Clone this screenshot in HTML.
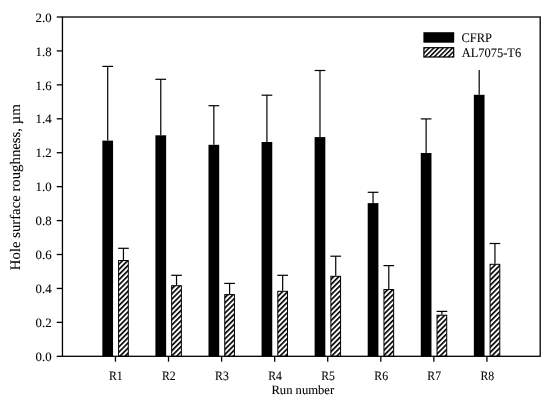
<!DOCTYPE html><html><head><meta charset="utf-8"><title>Hole surface roughness</title>
<style>html,body{margin:0;padding:0;background:#fff}svg{display:block}text{text-rendering:geometricPrecision;font-family:"Liberation Serif","Times New Roman",serif;fill:#000;stroke:#000;stroke-width:0.08px}</style></head><body>
<svg width="550" height="399" viewBox="0 0 550 399">
<defs><pattern id="h" width="3.65" height="3.65" patternUnits="userSpaceOnUse" patternTransform="rotate(-45)"><rect width="3.65" height="3.65" fill="#fff"/><rect width="3.65" height="1.65" fill="#000"/></pattern><pattern id="h2" width="3.3" height="3.3" patternUnits="userSpaceOnUse" patternTransform="rotate(-45)"><rect width="3.3" height="3.3" fill="#fff"/><rect width="3.3" height="1.5" fill="#000"/></pattern></defs>
<rect width="550" height="399" fill="#fff"/>
<line x1="107.70" y1="66.40" x2="107.70" y2="140.60" stroke="#000" stroke-width="1.2"/>
<line x1="102.35" y1="66.40" x2="113.05" y2="66.40" stroke="#000" stroke-width="1.2"/>
<line x1="123.45" y1="248.30" x2="123.45" y2="260.00" stroke="#000" stroke-width="1.2"/>
<line x1="118.10" y1="248.30" x2="128.80" y2="248.30" stroke="#000" stroke-width="1.2"/>
<line x1="160.77" y1="79.30" x2="160.77" y2="135.30" stroke="#000" stroke-width="1.2"/>
<line x1="155.42" y1="79.30" x2="166.12" y2="79.30" stroke="#000" stroke-width="1.2"/>
<line x1="176.52" y1="275.30" x2="176.52" y2="285.20" stroke="#000" stroke-width="1.2"/>
<line x1="171.17" y1="275.30" x2="181.87" y2="275.30" stroke="#000" stroke-width="1.2"/>
<line x1="213.84" y1="105.70" x2="213.84" y2="144.80" stroke="#000" stroke-width="1.2"/>
<line x1="208.49" y1="105.70" x2="219.19" y2="105.70" stroke="#000" stroke-width="1.2"/>
<line x1="229.59" y1="283.40" x2="229.59" y2="294.10" stroke="#000" stroke-width="1.2"/>
<line x1="224.24" y1="283.40" x2="234.94" y2="283.40" stroke="#000" stroke-width="1.2"/>
<line x1="266.91" y1="95.20" x2="266.91" y2="142.00" stroke="#000" stroke-width="1.2"/>
<line x1="261.56" y1="95.20" x2="272.26" y2="95.20" stroke="#000" stroke-width="1.2"/>
<line x1="282.66" y1="275.30" x2="282.66" y2="290.80" stroke="#000" stroke-width="1.2"/>
<line x1="277.31" y1="275.30" x2="288.01" y2="275.30" stroke="#000" stroke-width="1.2"/>
<line x1="319.98" y1="70.50" x2="319.98" y2="137.10" stroke="#000" stroke-width="1.2"/>
<line x1="314.63" y1="70.50" x2="325.33" y2="70.50" stroke="#000" stroke-width="1.2"/>
<line x1="335.73" y1="256.20" x2="335.73" y2="275.80" stroke="#000" stroke-width="1.2"/>
<line x1="330.38" y1="256.20" x2="341.08" y2="256.20" stroke="#000" stroke-width="1.2"/>
<line x1="373.05" y1="192.30" x2="373.05" y2="203.10" stroke="#000" stroke-width="1.2"/>
<line x1="367.70" y1="192.30" x2="378.40" y2="192.30" stroke="#000" stroke-width="1.2"/>
<line x1="388.80" y1="265.60" x2="388.80" y2="289.00" stroke="#000" stroke-width="1.2"/>
<line x1="383.45" y1="265.60" x2="394.15" y2="265.60" stroke="#000" stroke-width="1.2"/>
<line x1="426.12" y1="118.90" x2="426.12" y2="153.00" stroke="#000" stroke-width="1.2"/>
<line x1="420.77" y1="118.90" x2="431.47" y2="118.90" stroke="#000" stroke-width="1.2"/>
<line x1="441.87" y1="311.40" x2="441.87" y2="314.70" stroke="#000" stroke-width="1.2"/>
<line x1="436.52" y1="311.40" x2="447.22" y2="311.40" stroke="#000" stroke-width="1.2"/>
<line x1="479.19" y1="70.00" x2="479.19" y2="94.80" stroke="#000" stroke-width="1.2"/>
<line x1="494.94" y1="243.50" x2="494.94" y2="263.80" stroke="#000" stroke-width="1.2"/>
<line x1="489.59" y1="243.50" x2="500.29" y2="243.50" stroke="#000" stroke-width="1.2"/>
<rect x="102.35" y="140.60" width="10.7" height="215.70" fill="#000"/>
<rect x="118.60" y="260.50" width="9.7" height="95.80" fill="url(#h)" stroke="#000" stroke-width="1"/>
<rect x="155.42" y="135.30" width="10.7" height="221.00" fill="#000"/>
<rect x="171.67" y="285.70" width="9.7" height="70.60" fill="url(#h)" stroke="#000" stroke-width="1"/>
<rect x="208.49" y="144.80" width="10.7" height="211.50" fill="#000"/>
<rect x="224.74" y="294.60" width="9.7" height="61.70" fill="url(#h)" stroke="#000" stroke-width="1"/>
<rect x="261.56" y="142.00" width="10.7" height="214.30" fill="#000"/>
<rect x="277.81" y="291.30" width="9.7" height="65.00" fill="url(#h)" stroke="#000" stroke-width="1"/>
<rect x="314.63" y="137.10" width="10.7" height="219.20" fill="#000"/>
<rect x="330.88" y="276.30" width="9.7" height="80.00" fill="url(#h)" stroke="#000" stroke-width="1"/>
<rect x="367.70" y="203.10" width="10.7" height="153.20" fill="#000"/>
<rect x="383.95" y="289.50" width="9.7" height="66.80" fill="url(#h)" stroke="#000" stroke-width="1"/>
<rect x="420.77" y="153.00" width="10.7" height="203.30" fill="#000"/>
<rect x="437.02" y="315.20" width="9.7" height="41.10" fill="url(#h)" stroke="#000" stroke-width="1"/>
<rect x="473.84" y="94.80" width="10.7" height="261.50" fill="#000"/>
<rect x="490.09" y="264.30" width="9.7" height="92.00" fill="url(#h)" stroke="#000" stroke-width="1"/>
<rect x="62.45" y="17.0" width="477.75" height="339.30" fill="none" stroke="#000" stroke-width="1.3"/>
<line x1="56.75" y1="356.30" x2="62.45" y2="356.30" stroke="#000" stroke-width="1.3"/>
<text x="51.6" y="361.00" font-size="12.8" text-anchor="end">0.0</text>
<line x1="56.75" y1="322.37" x2="62.45" y2="322.37" stroke="#000" stroke-width="1.3"/>
<text x="51.6" y="327.07" font-size="12.8" text-anchor="end">0.2</text>
<line x1="56.75" y1="288.44" x2="62.45" y2="288.44" stroke="#000" stroke-width="1.3"/>
<text x="51.6" y="293.14" font-size="12.8" text-anchor="end">0.4</text>
<line x1="56.75" y1="254.51" x2="62.45" y2="254.51" stroke="#000" stroke-width="1.3"/>
<text x="51.6" y="259.21" font-size="12.8" text-anchor="end">0.6</text>
<line x1="56.75" y1="220.58" x2="62.45" y2="220.58" stroke="#000" stroke-width="1.3"/>
<text x="51.6" y="225.28" font-size="12.8" text-anchor="end">0.8</text>
<line x1="56.75" y1="186.65" x2="62.45" y2="186.65" stroke="#000" stroke-width="1.3"/>
<text x="51.6" y="191.35" font-size="12.8" text-anchor="end">1.0</text>
<line x1="56.75" y1="152.72" x2="62.45" y2="152.72" stroke="#000" stroke-width="1.3"/>
<text x="51.6" y="157.42" font-size="12.8" text-anchor="end">1.2</text>
<line x1="56.75" y1="118.79" x2="62.45" y2="118.79" stroke="#000" stroke-width="1.3"/>
<text x="51.6" y="123.49" font-size="12.8" text-anchor="end">1.4</text>
<line x1="56.75" y1="84.86" x2="62.45" y2="84.86" stroke="#000" stroke-width="1.3"/>
<text x="51.6" y="89.56" font-size="12.8" text-anchor="end">1.6</text>
<line x1="56.75" y1="50.93" x2="62.45" y2="50.93" stroke="#000" stroke-width="1.3"/>
<text x="51.6" y="55.63" font-size="12.8" text-anchor="end">1.8</text>
<line x1="56.75" y1="17.00" x2="62.45" y2="17.00" stroke="#000" stroke-width="1.3"/>
<text x="51.6" y="21.70" font-size="12.8" text-anchor="end">2.0</text>
<line x1="115.45" y1="356.30" x2="115.45" y2="361.70" stroke="#000" stroke-width="1.3"/>
<text x="115.80" y="379.9" font-size="12.9" textLength="13.7" lengthAdjust="spacingAndGlyphs" text-anchor="middle">R1</text>
<line x1="168.52" y1="356.30" x2="168.52" y2="361.70" stroke="#000" stroke-width="1.3"/>
<text x="168.87" y="379.9" font-size="12.9" textLength="13.7" lengthAdjust="spacingAndGlyphs" text-anchor="middle">R2</text>
<line x1="221.59" y1="356.30" x2="221.59" y2="361.70" stroke="#000" stroke-width="1.3"/>
<text x="221.94" y="379.9" font-size="12.9" textLength="13.7" lengthAdjust="spacingAndGlyphs" text-anchor="middle">R3</text>
<line x1="274.66" y1="356.30" x2="274.66" y2="361.70" stroke="#000" stroke-width="1.3"/>
<text x="275.01" y="379.9" font-size="12.9" textLength="13.7" lengthAdjust="spacingAndGlyphs" text-anchor="middle">R4</text>
<line x1="327.73" y1="356.30" x2="327.73" y2="361.70" stroke="#000" stroke-width="1.3"/>
<text x="328.08" y="379.9" font-size="12.9" textLength="13.7" lengthAdjust="spacingAndGlyphs" text-anchor="middle">R5</text>
<line x1="380.80" y1="356.30" x2="380.80" y2="361.70" stroke="#000" stroke-width="1.3"/>
<text x="381.15" y="379.9" font-size="12.9" textLength="13.7" lengthAdjust="spacingAndGlyphs" text-anchor="middle">R6</text>
<line x1="433.87" y1="356.30" x2="433.87" y2="361.70" stroke="#000" stroke-width="1.3"/>
<text x="434.22" y="379.9" font-size="12.9" textLength="13.7" lengthAdjust="spacingAndGlyphs" text-anchor="middle">R7</text>
<line x1="486.94" y1="356.30" x2="486.94" y2="361.70" stroke="#000" stroke-width="1.3"/>
<text x="487.29" y="379.9" font-size="12.9" textLength="13.7" lengthAdjust="spacingAndGlyphs" text-anchor="middle">R8</text>
<text x="271.4" y="393.6" font-size="12.6" textLength="62.8" lengthAdjust="spacingAndGlyphs">Run number</text>
<text transform="translate(19.9,187.3) rotate(-90)" font-size="14.6" textLength="165.9" lengthAdjust="spacingAndGlyphs" text-anchor="middle">Hole surface roughness, µm</text>
<rect x="423.4" y="32.2" width="30.8" height="10.5" fill="#000"/>
<rect x="423.9" y="47.7" width="29.8" height="9.3" fill="url(#h2)" stroke="#000" stroke-width="1.2"/>
<text x="461.5" y="42" font-size="13.1" textLength="30.5" lengthAdjust="spacingAndGlyphs">CFRP</text>
<text x="461.7" y="56.7" font-size="13.1" textLength="59.5" lengthAdjust="spacingAndGlyphs">AL7075-T6</text>
</svg></body></html>
